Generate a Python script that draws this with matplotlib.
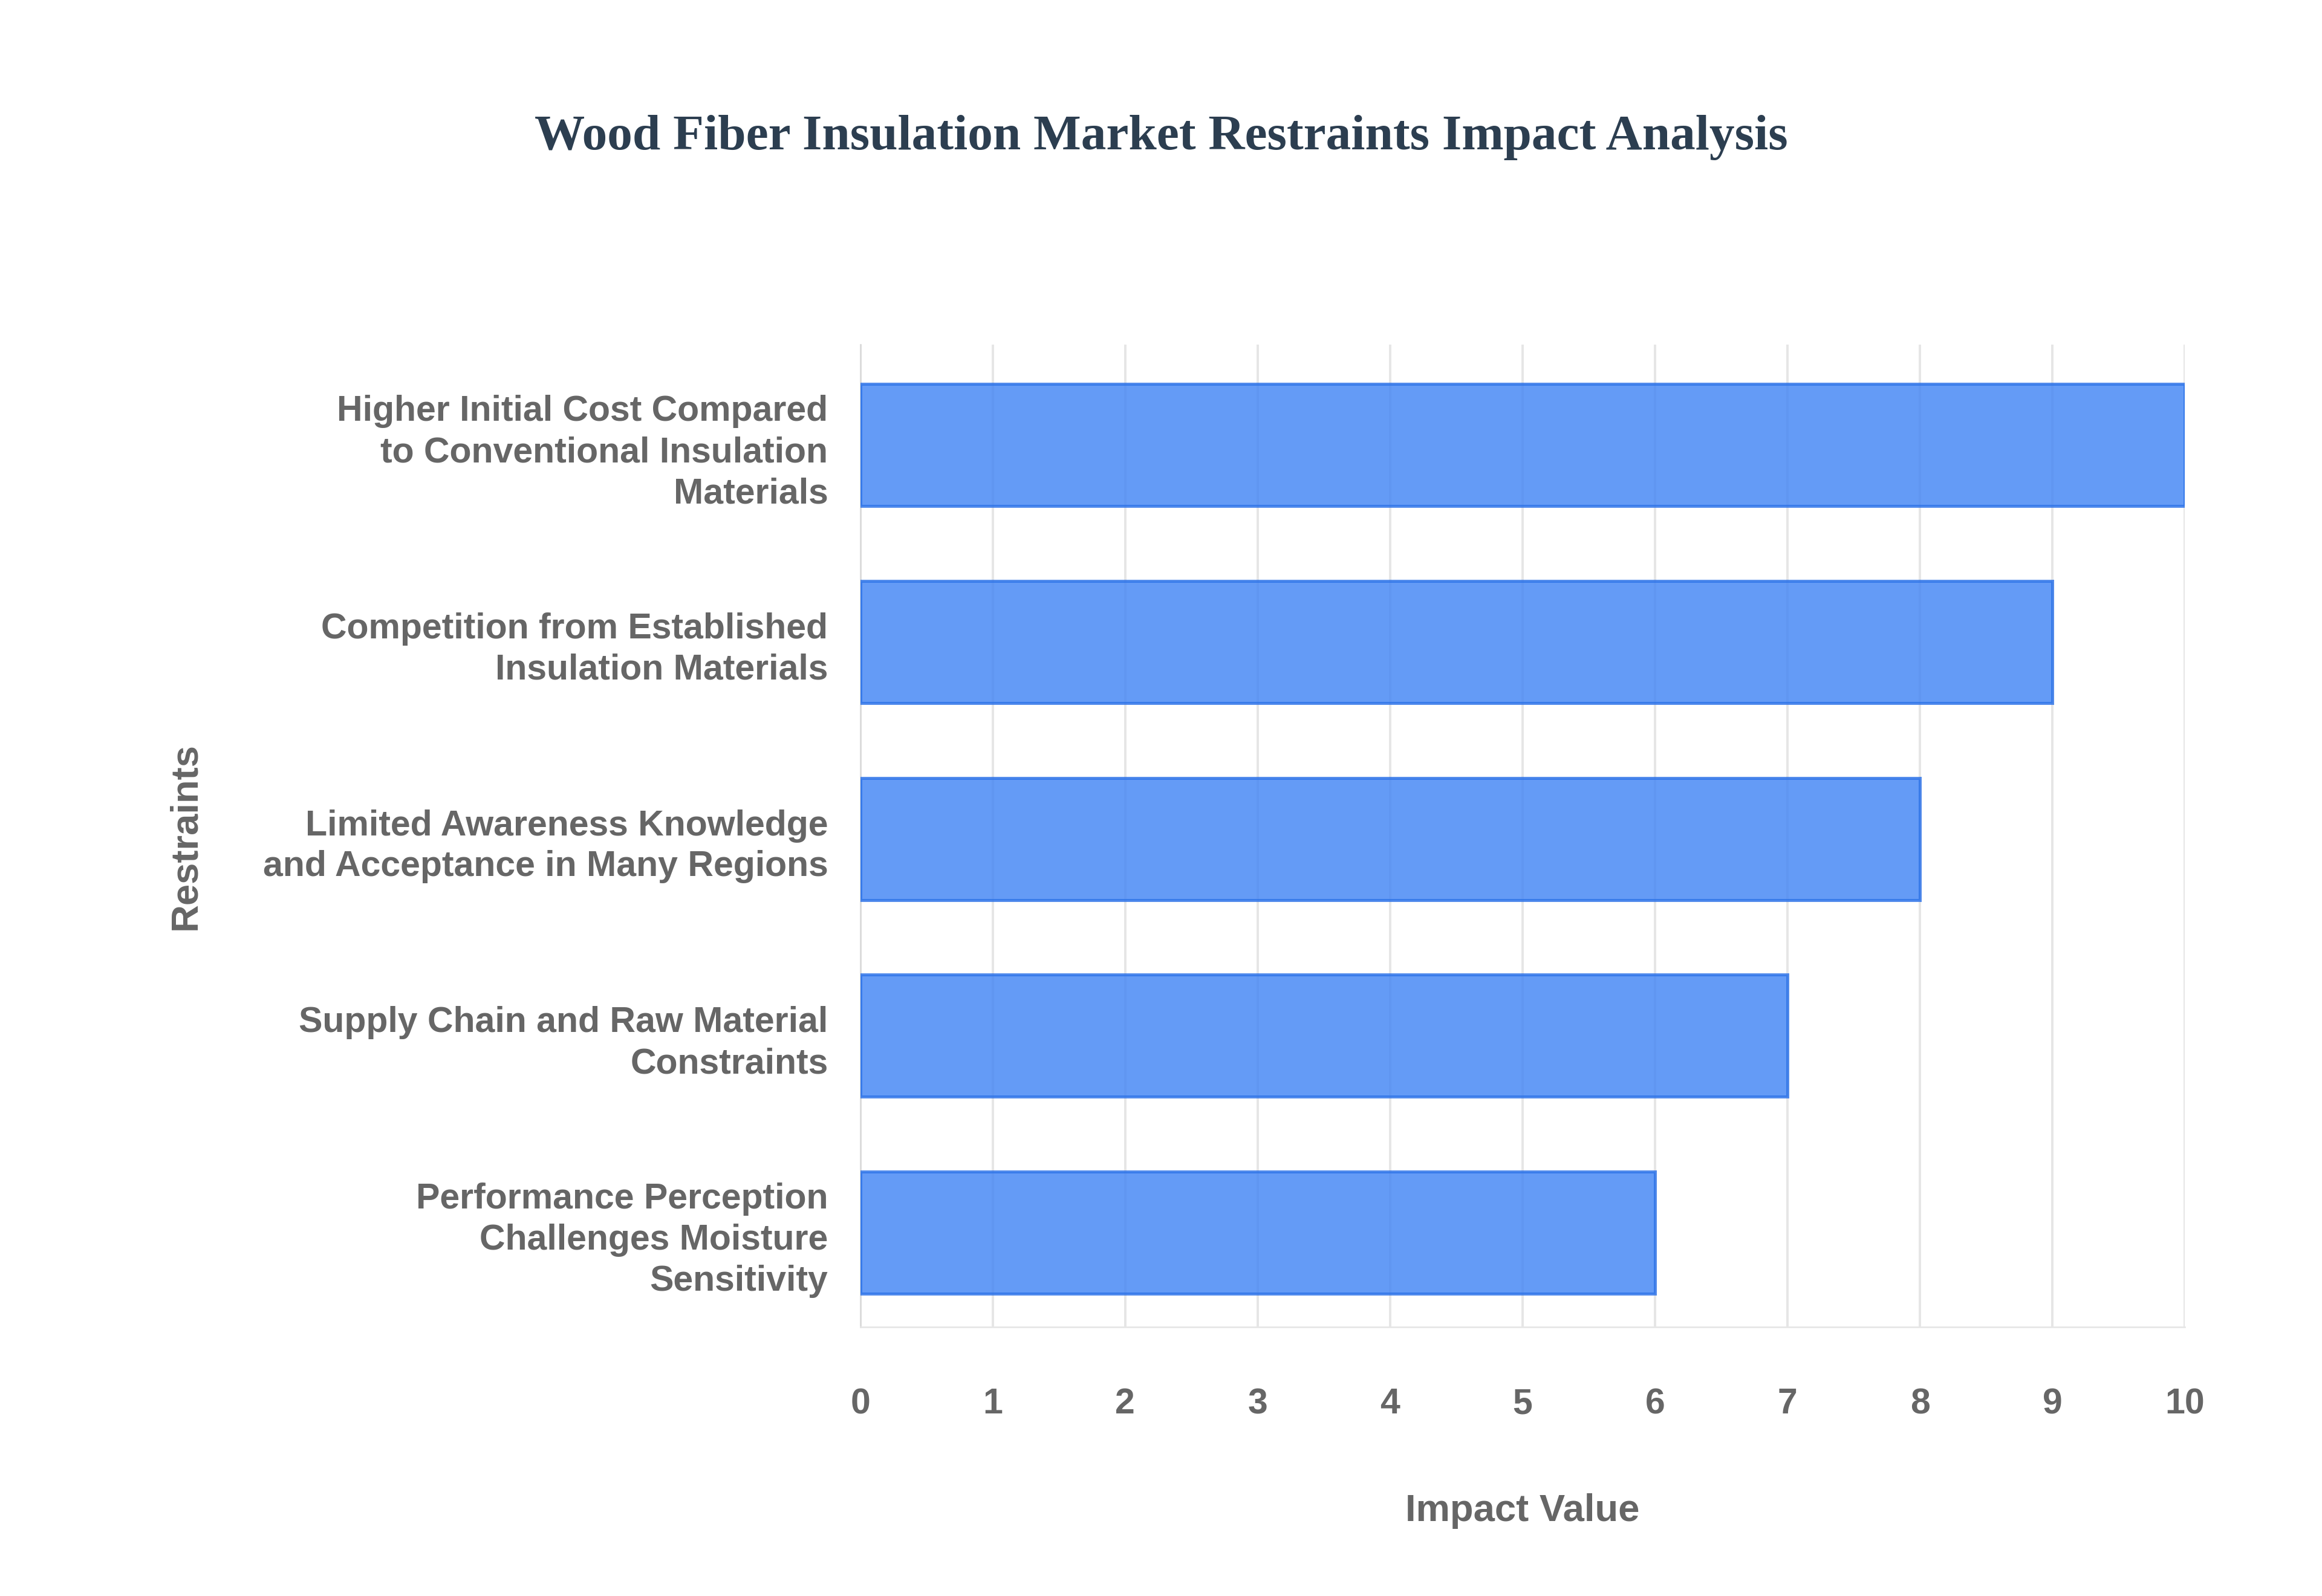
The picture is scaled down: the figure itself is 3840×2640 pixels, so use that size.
import matplotlib
matplotlib.use("Agg")
import matplotlib.pyplot as plt

categories = ["Higher Initial Cost Compared\nto Conventional Insulation\nMaterials",
              "Competition from Established\nInsulation Materials",
              "Limited Awareness Knowledge\nand Acceptance in Many Regions",
              "Supply Chain and Raw Material\nConstraints",
              "Performance Perception\nChallenges Moisture\nSensitivity"]
values = [10, 9, 8, 7, 6]
xticks = list(range(0, 11))

fig = plt.figure(figsize=(16, 11), dpi=240)
ax = fig.add_axes([0.3705, 0.1685, 0.5705, 0.6155])
y = list(range(len(categories)))[::-1]
ax.barh(y, values, height=0.62, color="#4285f4", alpha=0.82, edgecolor="#2f74e8", linewidth=1.5, zorder=3)
ax.set_xlim(0, 10)
ax.set_ylim(-0.48, 4.51)
ax.set_yticks(y)
ax.set_yticklabels(categories, fontsize=17.7, fontweight="bold", color="#666666", family="Liberation Sans", linespacing=1.3)
ax.set_xticks(xticks)
ax.set_xticklabels([str(t) for t in xticks], fontsize=17.7, fontweight="bold", color="#666666", family="Liberation Sans")
ax.tick_params(length=0)
ax.tick_params(axis="x", pad=30)
ax.tick_params(axis="y", pad=16)
ax.grid(axis="x", color="#e6e6e6", linewidth=1.2, zorder=0)
for s in ["top", "right"]:
    ax.spines[s].set_visible(False)
ax.spines["left"].set_color("#d9d9d9")
ax.spines["bottom"].set_color("#e6e6e6")
ax.set_xlabel("Impact Value", fontsize=19, fontweight="bold", color="#666666", family="Liberation Sans", labelpad=36)
fig.text(0.08, 0.476, "Restraints", rotation=90, fontsize=19, fontweight="bold", color="#666666",
         family="Liberation Sans", ha="center", va="center")
fig.text(0.5, 0.914, "Wood Fiber Insulation Market Restraints Impact Analysis", fontsize=25,
         fontweight="bold", color="#2c3e50", family="Liberation Serif", ha="center", va="center")
fig.savefig("out.png", dpi=240, facecolor="white")
